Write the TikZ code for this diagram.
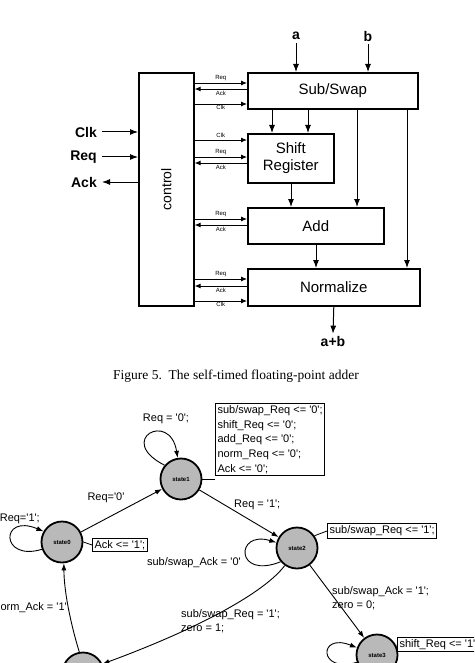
\documentclass[tikz,border=0pt]{standalone}
\usepackage{fontspec}
\setmainfont{Liberation Serif}
\newfontfamily\arial{Liberation Sans}
\usetikzlibrary{arrows.meta,calc}
\begin{document}
\begin{tikzpicture}[x=1pt,y=-1pt,
  blk/.style={draw,line width=1.6pt,font=\arial\fontsize{15}{17}\selectfont,align=center,inner sep=0,anchor=north west},
  sig/.style={line width=0.9pt,-{Latex[length=6pt,width=5pt]}},
  big/.style={line width=1pt,-{Latex[length=8pt,width=6pt]}},
  tiny/.style={font=\arial\fontsize{6}{6}\selectfont,inner sep=0},
  io/.style={font=\arial\bfseries\fontsize{14}{14}\selectfont,inner sep=0},
  st/.style={circle,draw,line width=1.8pt,fill=gray!55,minimum size=41pt,inner sep=0,font=\arial\bfseries\fontsize{6}{6}\selectfont},
  lbl/.style={font=\arial\fontsize{11}{14}\selectfont,inner sep=0,align=left},
  abox/.style={draw,line width=1.1pt,font=\arial\fontsize{11}{14.7}\selectfont,align=left,inner sep=2pt},
  tr/.style={line width=0.9pt,-{Latex[length=7pt,width=5pt]}},
  ln/.style={line width=0.8pt},
]
\useasboundingbox (0,0) rectangle (474,663);
\clip (0,0) rectangle (474,663);
\fill[white] (0,0) rectangle (474,663);

% ---------- block diagram ----------
\node[blk,minimum width=170pt,minimum height=36pt] (sub) at (247,72) {Sub/Swap};
\node[blk,minimum width=86pt,minimum height=49pt] (shift) at (247,133) {Shift\\Register};
\node[blk,minimum width=136pt,minimum height=36pt] (add) at (247,207) {Add};
\node[blk,minimum width=172pt,minimum height=37pt] (norm) at (247,268) {Normalize};
\node[blk,minimum width=55pt,minimum height=233pt] (ctl) at (138,72) {};
\node[rotate=90,font=\arial\fontsize{14}{14}\selectfont,inner sep=0] (ctltxt) at (ctl.center) {control};

\node[io] (a) at (296,36) {a};
\node[io] (b) at (368,36) {b};
\draw[big] ([yshift=-3pt]a.south) -- (a.south |- sub.north);
\draw[big] ([yshift=-3pt]b.south) -- (b.south |- sub.north);

\draw[big] ([xshift=25pt]sub.south west) -- ([xshift=25pt]shift.north west);
\draw[big] ([xshift=61pt]sub.south west) -- ([xshift=61pt]shift.north west);
\draw[big] ([xshift=44pt]shift.south west) -- ([xshift=44pt]add.north west);
\draw[big] ([xshift=110pt]sub.south west) -- ([xshift=110pt]add.north west);
\draw[big] ([xshift=69pt]add.south west) -- ([xshift=69pt]norm.north west);
\draw[big] ([xshift=160pt]sub.south west) -- ([xshift=160pt]norm.north west);
\node[io] (out) at (333,341) {a+b};
\draw[big] (norm.south) -- ([yshift=2pt]out.north);

% left inputs
\node[io,anchor=east] (clk) at (97,132) {Clk};
\node[io,anchor=east] (req) at (97,157) {Req};
\node[io,anchor=east] (ack) at (97,182) {Ack};
\draw[big] ([xshift=5pt]clk.east) -- (ctl.west |- clk.east);
\draw[big] ([xshift=5pt]req.east) -- (ctl.west |- req.east);
\draw[big] (ctl.west |- ack.east) -- ([xshift=5pt]ack.east);

% control <-> Sub/Swap
\draw[sig] ([yshift=-11pt]ctl.north east) -- ([yshift=-11pt]sub.north west) node[tiny,midway,above=2pt]{Req};
\draw[sig] ([yshift=-17pt]sub.north west) -- ([yshift=-17pt]ctl.north east) node[tiny,midway,below=2pt]{Ack};
\draw[sig] ([yshift=-32pt]ctl.north east) -- ([yshift=-32pt]sub.north west) node[tiny,midway,below=1pt]{Clk};
% control <-> Shift
\draw[sig] ([yshift=-68pt]ctl.north east) -- ([yshift=-7pt]shift.north west) node[tiny,midway,above=2pt]{Clk};
\draw[sig] ([yshift=-85pt]ctl.north east) -- ([yshift=-24pt]shift.north west) node[tiny,midway,above=2pt]{Req};
\draw[sig] ([yshift=-30pt]shift.north west) -- ([yshift=-91pt]ctl.north east) node[tiny,midway,below=2pt]{Ack};
% control <-> Add
\draw[sig] ([yshift=-147pt]ctl.north east) -- ([yshift=-12pt]add.north west) node[tiny,midway,above=2pt]{Req};
\draw[sig] ([yshift=-18pt]add.north west) -- ([yshift=-153pt]ctl.north east) node[tiny,midway,below=2pt]{Ack};
% control <-> Normalize
\draw[sig] ([yshift=-207pt]ctl.north east) -- ([yshift=-11pt]norm.north west) node[tiny,midway,above=2pt]{Req};
\draw[sig] ([yshift=-18pt]norm.north west) -- ([yshift=-214pt]ctl.north east) node[tiny,midway,below=2pt]{Ack};
\draw[sig] ([yshift=-229pt]ctl.north east) -- ([yshift=-33pt]norm.north west) node[tiny,midway,below=1pt]{Clk};

% caption
\node[font=\fontsize{13.5}{14}\selectfont,inner sep=0] (cap) at (236,376) {Figure 5.\ \ The self-timed floating-point adder};

% ---------- state diagram ----------
\node[st] (s1) at (181,479) {state1};
\node[st] (s0) at (62,542) {state0};
\node[st] (s2) at (297,548) {state2};
\node[st] (s3) at (377,655) {state3};
\node[st] (s4) at (83,673) {};

\node[abox,anchor=north west] (b1) at (215,403) {sub/swap\_Req <= '0';\\shift\_Req <= '0';\\add\_Req <= '0';\\norm\_Req <= '0';\\Ack <= '0';};
\draw[ln] (s1.east) -- (b1.west |- s1.east);
\node[abox,anchor=west] (b0) at (92,545) {Ack <= '1';};
\draw[ln] (s0.east) -- (b0.west);
\node[abox,anchor=west] (b2) at (327,531) {sub/swap\_Req <= '1';};
\draw[ln] (s2.35) -- (b2.west);
\node[abox,anchor=north west] (b3) at (397,637) {shift\_Req <= '1';};
\draw[ln] (s3.20) -- (b3.west);

% self loops
\draw[tr] (s1.140) .. controls (115,440) and (170,410) .. (s1.99);
\node[lbl] (l1) at (166,419) {Req = '0';};
\draw[tr] (s0.200) .. controls (0,562) and (0,513) .. (s0.150);
\node[lbl,anchor=east] (l0) at (40,519) {Req='1';};
\draw[tr] (s2.220) .. controls (235,580) and (235,530) .. (s2.165);
\node[lbl,anchor=east] (l2) at (241,563) {sub/swap\_Ack = '0'};
\draw[tr] (s3.200) .. controls (318,674) and (318,632) .. (s3.160);

% transitions
\draw[tr] (s0) -- (s1);
\node[lbl] (t01) at (106,498) {Req='0'};
\draw[tr] (s1) -- (s2);
\node[lbl,anchor=west] (t12) at (234,505) {Req = '1';};
\draw[tr] (s2) -- (s3);
\node[lbl,anchor=north west] (t23) at (332,586) {sub/swap\_Ack = '1';\\zero = 0;};
\draw[tr] (s2.235) .. controls (265,592) and (200,628) .. (s4.25);
\node[lbl,anchor=north west] (t24) at (181,609) {sub/swap\_Req = '1';\\zero = 1;};
\draw[tr] (s4.100) .. controls (71,625) and (64,592) .. (s0.-85);
\node[lbl,anchor=east] (t40) at (67,608) {norm\_Ack = '1'};
\end{tikzpicture}
\end{document}
